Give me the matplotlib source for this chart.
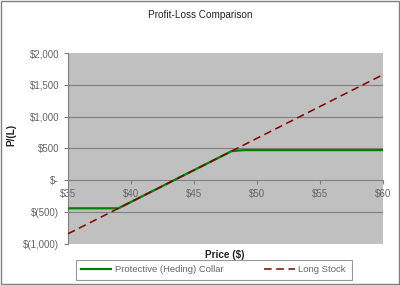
import matplotlib
matplotlib.use("Agg")
import matplotlib.pyplot as plt
from matplotlib.patches import Rectangle

plt.rcParams["font.family"] = ["Liberation Sans", "DejaVu Sans"]

# data
prices = [35, 36, 37, 38, 39, 40, 41, 42, 43, 44, 45, 46, 47, 48, 49, 50,
          51, 52, 53, 54, 55, 56, 57, 58, 59, 60]
collar_pl = [-440, -440, -440, -440, -440, -340, -240, -140, -40, 60, 160, 260,
             360, 460, 475, 475, 475, 475, 475, 475, 475, 475, 475, 475, 475, 475]
stock_prices = [35, 60]
stock_pl = [-840, 1660]

y_ticks = [-1000, -500, 0, 500, 1000, 1500, 2000]
y_labels = ["$(1,000)", "$(500)", "$-", "$500", "$1,000", "$1,500", "$2,000"]
x_ticks = [35, 40, 45, 50, 55, 60]
x_labels = ["$35", "$40", "$45", "$50", "$55", "$60"]

txt = "#666666"
fig = plt.figure(figsize=(4, 2.85), dpi=100)
fig.patches.append(Rectangle((0.002, 0.003), 0.995, 0.994, transform=fig.transFigure,
                             fill=False, edgecolor="#808080", linewidth=1))
ax = fig.add_axes([0.17, 0.144, 0.7875, 0.67])
ax.set_facecolor("#C0C0C0")

ax.plot(prices, collar_pl, color="#008000", linewidth=1.6, label="Protective (Heding) Collar", zorder=3)
ax.plot(stock_prices, stock_pl, color="#800000", linewidth=1.1, linestyle=(0, (5, 3)),
        label="Long Stock", zorder=4)

ax.set_xlim(35, 60)
ax.set_ylim(-1000, 2000)
ax.set_yticks(y_ticks)
ax.set_yticklabels(y_labels)
ax.set_xticks(x_ticks)
ax.set_xticklabels(x_labels)

for v in [-500, 500, 1000, 1500]:
    ax.axhline(v, color="#808080", linewidth=0.8, zorder=1)

for s in ["top", "right"]:
    ax.spines[s].set_visible(False)
ax.spines["left"].set_color("#808080")
ax.spines["bottom"].set_position(("data", 0))
ax.spines["bottom"].set_color("#808080")
ax.spines["bottom"].set_zorder(2)

ax.tick_params(axis="y", colors="#808080", labelcolor=txt, labelsize=7, length=3, width=0.8)
ax.tick_params(axis="x", colors="#808080", labelcolor=txt, labelsize=7, length=3, width=0.8,
               direction="out", pad=3)

fig.text(0.5, 0.948, "Profit-Loss Comparison", ha="center", va="center", fontsize=7.2, color="#222222")
fig.text(0.028, 0.525, "P/(L)", rotation=90, ha="center", va="center", fontsize=7.2,
         fontweight="bold", color="#222222")
fig.text(0.562, 0.105, "Price ($)", ha="center", va="center", fontsize=7.2,
         fontweight="bold", color="#222222")

leg = fig.legend(loc="center", bbox_to_anchor=(0.534, 0.053), ncol=2, fontsize=6.8,
                 frameon=True, fancybox=False, edgecolor="#808080", handlelength=3.2,
                 columnspacing=4.3, borderpad=0.6, handletextpad=0.4)
leg.get_frame().set_linewidth(0.8)
for t in leg.get_texts():
    t.set_color(txt)

fig.savefig("out.png", dpi=100)
